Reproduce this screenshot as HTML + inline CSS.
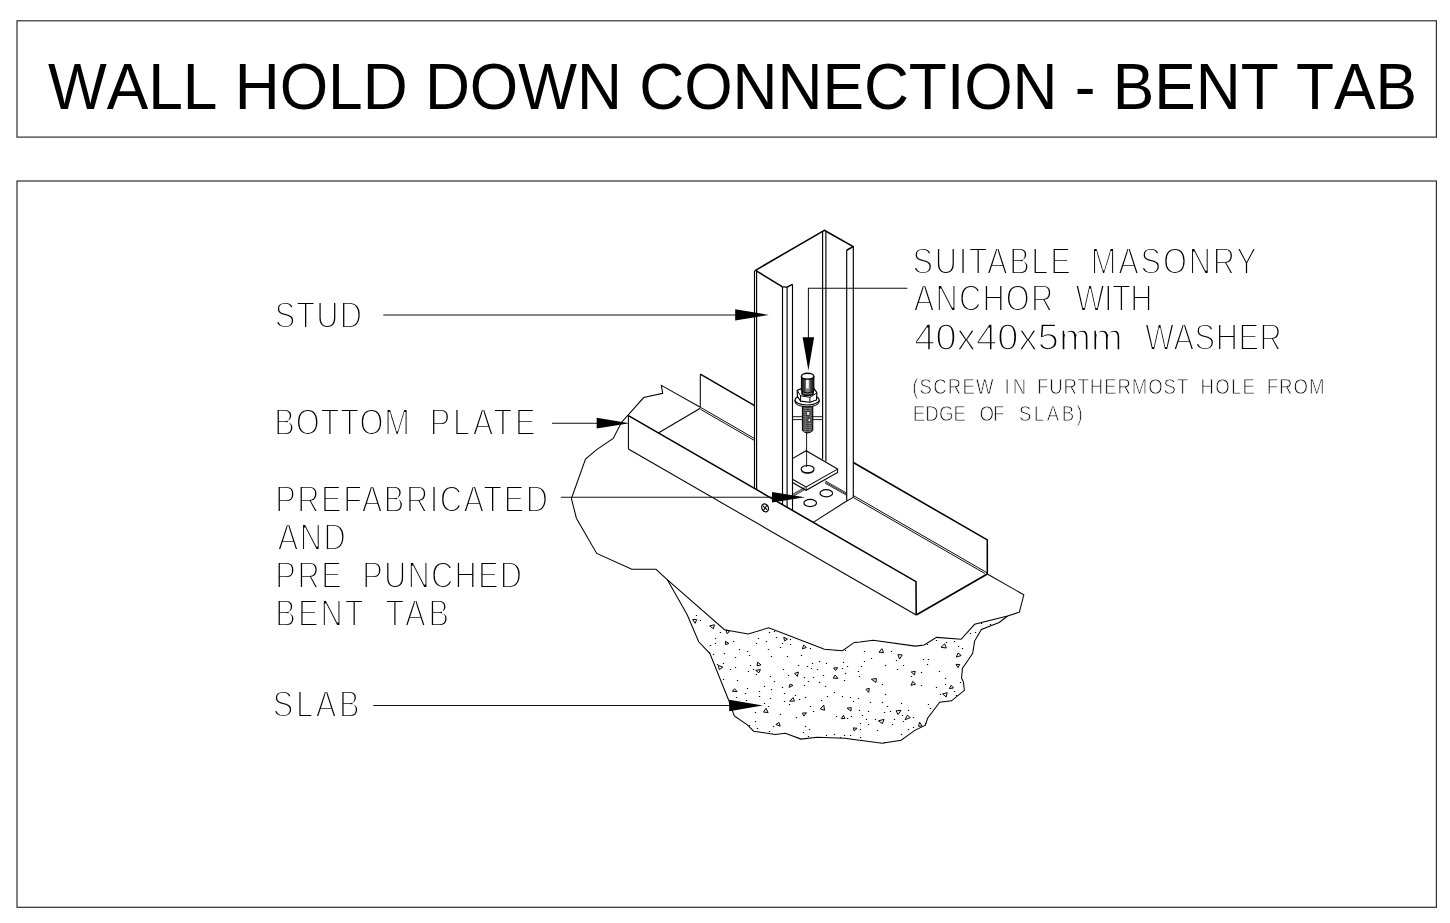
<!DOCTYPE html>
<html lang="en">
<head>
<meta charset="utf-8">
<title>Wall Hold Down Connection - Bent Tab</title>
<style>
html,body{margin:0;padding:0;background:#fff;}
body{width:1450px;height:923px;overflow:hidden;font-family:"Liberation Sans",sans-serif;}
svg{display:block;position:absolute;left:0;top:0;}
.frames rect{fill:none;stroke:#2e2e2e;stroke-width:1.2;}
text{font-family:"Liberation Sans",sans-serif;fill:#000;}
.title{font-size:62.24px;font-kerning:none;}
.cad{fill:#000;stroke:#fff;}
</style>
</head>
<body>
<svg width="1450" height="923" viewBox="0 0 1450 923">
<rect width="1450" height="923" fill="#fff"/>
<g class="frames">
<rect x="17" y="20.8" width="1419.4" height="116.3"/>
<rect x="17" y="181" width="1419.4" height="726.3"/>
</g>
<text class="title" transform="translate(48.0 108.9) scale(1 1.042)" x="0" y="0">WALL HOLD DOWN CONNECTION - BENT TAB</text>
<g class="geo" fill="none" stroke="#000">
<g id="slab">
<path d="M700.3 407.2 L661.4 385.4 L662.7 393.3 L643.7 397.6 L627.8 415.3 L621.6 422.2 L613.2 438.4 L596.7 449.6 L585.5 459.0 L571.4 498.6 L576.4 518.2 L596.7 553.4 L631.8 569.3 L656.0 569.3 L667.2 579.6 L724.5 629.7 L748.2 634.0 L768.7 627.8 L824.5 649.2 L842.5 650.8 L854.3 642.4 L860.0 641.9 L873.1 640.3 L915.4 646.1 L924.1 645.0 L936.6 637.4 L961.1 639.3 L974.6 624.3 L1007.6 616.0 L1019.4 612.2 L1023.8 594.8 L987.3 574.0" stroke-width="1.05"/>
<path d="M667.2 579.6 L687.2 614.7 L698.7 641.8 L709.9 653.6 L729.2 701.5 L734.3 716.0 L747.4 724.8 L753.6 731.2 L775.4 734.5 L785.4 733.2 L801.0 739.1 L817.1 737.2 L844.5 738.2 L882.2 743.2 L901.1 740.3 L914.8 730.4 L925.4 725.1 L927.6 718.3 L939.7 702.3 L951.5 700.8 L964.4 690.3 L963.4 681.8 L961.5 678.1 L962.5 668.1 L968.2 660.0 L972.7 653.3 L974.6 641.1 L981.4 629.4 L999.2 622.5 L1007.6 616.0" stroke-width="1.05"/>
<path d="M692.7 619.5 L696.7 619.5 L695.1 623.3Z M713.5 628.7 L709.7 625.9 L714.4 624.8Z M727.0 633.7 L726.0 629.8 L729.4 631.5Z M728.9 643.4 L725.6 644.7 L725.5 641.3Z M787.5 639.1 L784.5 640.9 L783.8 637.2Z M806.3 647.5 L802.4 648.8 L803.7 644.9Z M718.4 665.4 L722.8 667.2 L719.2 669.6Z M761.0 664.9 L757.0 665.8 L757.8 662.2Z M758.9 672.8 L755.7 670.4 L760.4 669.6Z M798.4 672.1 L797.4 676.4 L794.7 673.4Z M835.6 670.5 L833.6 668.0 L837.7 667.7Z M837.9 678.4 L833.3 678.1 L835.1 675.0Z M789.1 687.4 L790.0 684.1 L793.0 685.4Z M737.1 691.6 L732.4 691.3 L734.5 688.7Z M789.8 701.2 L793.0 697.6 L794.5 701.0Z M768.1 712.5 L763.5 712.1 L766.0 708.4Z M823.8 705.1 L824.5 710.3 L820.4 708.9Z M851.2 707.6 L851.0 711.1 L847.1 708.2Z M803.9 716.1 L802.4 713.1 L806.5 712.8Z M844.9 718.5 L841.3 718.6 L843.4 715.3Z M775.9 724.5 L778.9 722.4 L780.2 726.2Z M876.0 682.4 L871.4 679.3 L876.4 678.5Z M868.7 692.4 L866.0 689.3 L869.3 688.3Z M884.0 719.3 L882.4 723.6 L878.5 720.9Z M857.1 728.3 L854.2 730.9 L853.3 727.9Z M896.1 710.8 L901.0 710.4 L898.0 714.6Z M958.0 667.6 L956.0 664.4 L959.7 664.5Z M915.3 671.3 L914.3 674.9 L911.2 672.0Z M915.5 684.1 L911.0 685.3 L912.7 681.4Z M949.3 688.6 L951.2 685.3 L953.4 688.0Z M942.6 693.9 L947.2 692.7 L946.2 697.0Z M907.3 715.2 L910.3 717.6 L905.1 719.7Z M919.5 722.1 L922.0 726.0 L918.6 726.3Z M881.9 648.7 L883.6 652.5 L879.0 652.2Z M902.2 654.9 L899.6 659.1 L897.9 654.6Z M941.0 647.3 L944.6 643.9 L946.3 648.0Z M956.3 657.1 L958.0 653.0 L961.2 655.5Z" stroke-width="1.0" stroke-linejoin="miter"/>
<path d="M884.45 742.5h.1 M799.45 699.5h.1 M864.45 651.5h.1 M871.45 658.5h.1 M745.45 693.5h.1 M891.45 651.5h.1 M970.45 633.5h.1 M813.45 711.5h.1 M836.45 716.5h.1 M956.45 695.5h.1 M990.45 624.5h.1 M724.45 653.5h.1 M808.45 681.5h.1 M713.45 654.5h.1 M819.45 682.5h.1 M890.45 711.5h.1 M735.45 657.5h.1 M827.45 696.5h.1 M784.45 693.5h.1 M844.45 680.5h.1 M860.45 723.5h.1 M825.45 686.5h.1 M736.45 697.5h.1 M945.45 684.5h.1 M817.45 669.5h.1 M928.45 659.5h.1 M717.45 664.5h.1 M913.45 717.5h.1 M901.45 734.5h.1 M834.45 734.5h.1 M696.45 615.5h.1 M796.45 717.5h.1 M845.45 673.5h.1 M735.45 667.5h.1 M939.45 671.5h.1 M834.45 692.5h.1 M808.45 736.5h.1 M981.45 623.5h.1 M877.45 730.5h.1 M776.45 637.5h.1 M807.45 666.5h.1 M882.45 684.5h.1 M847.45 718.5h.1 M875.45 719.5h.1 M746.45 700.5h.1 M774.45 631.5h.1 M710.45 645.5h.1 M736.45 717.5h.1 M826.45 663.5h.1 M813.45 677.5h.1 M821.45 700.5h.1 M723.45 663.5h.1 M940.45 694.5h.1 M960.45 682.5h.1 M804.45 677.5h.1 M805.45 726.5h.1 M928.45 704.5h.1 M805.45 697.5h.1 M782.45 687.5h.1 M861.45 666.5h.1 M885.45 694.5h.1 M733.45 641.5h.1 M700.45 620.5h.1 M840.45 737.5h.1 M884.45 712.5h.1 M764.45 686.5h.1 M750.45 665.5h.1 M945.45 678.5h.1 M709.45 652.5h.1 M756.45 674.5h.1 M810.45 706.5h.1 M759.45 691.5h.1 M859.45 676.5h.1 M882.45 702.5h.1 M897.45 669.5h.1 M784.45 701.5h.1 M739.45 649.5h.1 M755.45 712.5h.1 M853.45 701.5h.1 M768.45 706.5h.1 M770.45 698.5h.1 M715.45 638.5h.1 M860.45 729.5h.1 M803.45 732.5h.1 M790.45 639.5h.1 M790.45 644.5h.1 M859.45 710.5h.1 M851.45 716.5h.1 M925.45 723.5h.1 M842.45 668.5h.1 M860.45 737.5h.1 M921.45 685.5h.1 M927.45 664.5h.1 M927.45 644.5h.1 M896.45 660.5h.1 M850.45 697.5h.1 M908.45 729.5h.1 M894.45 719.5h.1 M885.45 665.5h.1 M908.45 710.5h.1 M810.45 648.5h.1 M887.45 706.5h.1 M823.45 675.5h.1 M911.45 676.5h.1 M783.45 669.5h.1 M798.45 665.5h.1 M720.45 632.5h.1 M755.45 721.5h.1 M759.45 696.5h.1 M826.45 735.5h.1 M866.45 719.5h.1 M809.45 729.5h.1 M771.45 656.5h.1 M801.45 655.5h.1 M795.45 695.5h.1 M748.45 671.5h.1 M737.45 680.5h.1 M766.45 641.5h.1 M782.45 643.5h.1 M858.45 698.5h.1 M780.45 714.5h.1 M812.45 663.5h.1 M946.45 642.5h.1 M780.45 647.5h.1 M936.45 687.5h.1 M842.45 696.5h.1 M858.45 671.5h.1 M757.45 728.5h.1 M862.45 715.5h.1 M730.45 669.5h.1 M771.45 689.5h.1 M868.45 711.5h.1 M901.45 703.5h.1 M923.45 659.5h.1 M958.45 646.5h.1 M845.45 650.5h.1 M975.45 632.5h.1 M870.45 702.5h.1 M770.45 676.5h.1 M819.45 661.5h.1 M903.45 665.5h.1 M962.45 648.5h.1 M921.45 672.5h.1 M850.45 735.5h.1 M769.45 632.5h.1 M788.45 675.5h.1 M787.45 656.5h.1 M773.45 726.5h.1 M747.45 688.5h.1 M936.45 640.5h.1 M892.45 724.5h.1 M769.45 731.5h.1 M847.45 666.5h.1 M764.45 703.5h.1 M843.45 662.5h.1 M954.45 691.5h.1 M844.45 735.5h.1 M723.45 679.5h.1 M747.45 651.5h.1 M930.45 708.5h.1 M864.45 661.5h.1 M836.45 650.5h.1 M774.45 681.5h.1 M902.45 715.5h.1 M749.45 725.5h.1 M715.45 643.5h.1 M768.45 649.5h.1 M753.45 669.5h.1 M749.45 655.5h.1 M804.45 685.5h.1 M903.45 721.5h.1 M868.45 724.5h.1 M954.45 641.5h.1 M756.45 643.5h.1 M758.45 638.5h.1 M789.45 704.5h.1 M913.45 727.5h.1 M811.45 668.5h.1" stroke-width="1.15" stroke-linecap="square" stroke="#000"/>
</g>
<g id="track">
<path d="M700.3 407.2 L700.3 374.0" stroke-width="1.05"/>
<path d="M700.3 374.2 L754.6 405.6" stroke-width="1.45"/>
<path d="M853.3 462.5 L987.3 539.9 L987.3 574.0" stroke-width="1.55"/>
<path d="M700.3 407.2 L754.6 438.6" stroke-width="0.95"/>
<path d="M853.3 495.5 L987.3 572.9" stroke-width="0.95"/>
<path d="M700.3 409.2 L754.6 440.6" stroke-width="0.95"/>
<path d="M853.3 497.5 L984.9 573.5" stroke-width="0.95"/>
<path d="M658.3 433.0 L700.3 408.3" stroke-width="1.05"/>
<path d="M916.2 615.0 L987.3 574.0" stroke-width="1.55"/>
<path d="M628.4 449.0 L628.4 415.4" stroke-width="1.05"/>
<path d="M628.4 415.7 L916.0 581.7 L916.2 615.0" stroke-width="1.55"/>
<path d="M628.4 449.0 L916.2 615.0" stroke-width="1.05"/>
</g>
<g id="stud">
<path d="M782.5 286.9 L755.5 270.3 L824.3 230.3 L853.2 246.6 L846.6 250.3" stroke-width="1.55" stroke-linejoin="round"/>
<path d="M782.5 286.9 L787.0 287.1 L792.4 284.4" stroke-width="1.395" stroke-linejoin="round"/>
<path d="M754.5 270.6 L754.5 488.5" stroke-width="1.15"/>
<path d="M756.6 271.2 L756.6 489.7" stroke-width="1.15"/>
<path d="M782.5 286.9 L782.5 504.7" stroke-width="1.15"/>
<path d="M787.1 287.0 L787.1 507.3" stroke-width="1.15"/>
<path d="M792.5 284.4 L792.5 510.4" stroke-width="1.15"/>
<path d="M822.6 231.0 L822.6 459.6" stroke-width="1.15"/>
<path d="M825.9 231.0 L825.9 461.3" stroke-width="1.15"/>
<path d="M846.7 250.3 L846.7 500.6" stroke-width="1.15"/>
<path d="M853.3 246.6 L853.3 497.6" stroke-width="1.15"/>
<path d="M792.4 416.7 L822.7 416.7" stroke-width="0.9"/>
<path d="M792.4 419.6 L822.7 419.6" stroke-width="0.9"/>
</g>
<g id="tab">
<path d="M813.2 522.4 L846.7 501.0 L853.3 497.4" stroke-width="1.05"/>
<path d="M825.1 480.8 L846.7 493.0" stroke-width="0.8"/>
<path d="M825.1 482.0 L846.7 494.2" stroke-width="0.8"/>
<path d="M825.1 483.2 L846.7 495.4" stroke-width="0.8"/>
<path d="M792.4 494.4 L804.6 487.4" stroke-width="0.7"/>
<path d="M792.4 495.6 L804.6 488.6" stroke-width="0.7"/>
<path d="M792.4 496.8 L804.6 489.8" stroke-width="0.7"/>
<path d="M792.4 458.6 L806.1 450.7 L837.6 469.1 L806.1 486.9 L792.4 479.2" stroke-width="1.05"/>
<path d="M837.6 469.1 L837.6 472.4 L806.1 490.3 L792.4 482.5" stroke-width="1.05"/>
<path d="M806.1 486.9 L806.1 490.3" stroke-width="0.9"/>
<ellipse cx="807.6" cy="469.1" rx="6.5" ry="3.6" stroke-width="1.1"/>
<path d="M801.6 470.6 A6.0 2.7 0 0 0 813.6 470.6" stroke-width="1.0"/>
<ellipse cx="826.3" cy="493.2" rx="6.3" ry="3.6" stroke-width="1.15"/>
<ellipse cx="810.2" cy="503.0" rx="6.3" ry="3.6" stroke-width="1.15"/>
<ellipse cx="765.1" cy="507.9" rx="3.2" ry="4.1" stroke-width="1.25" transform="rotate(-25 765.1 507.9)"/>
<path d="M762.9 505.9 L767.3 509.9 M763.4 510.6 L766.8 505.2" stroke-width="1.1"/>
</g>
<g id="bolt">
<path d="M806.6 433.0 L806.6 467.0" stroke-width="0.9"/>
<path d="M802.4 404 V430.6 Q807.6 435.4 812.8 430.6 V404 Z" fill="#2b2b2b" stroke-width="1.0"/>
<path d="M803.2 407.0 L812.0 406.2 M803.2 408.9 L812.0 408.1 M803.2 410.8 L812.0 410.0 M803.2 412.7 L812.0 411.9 M803.2 414.6 L812.0 413.8 M803.2 416.5 L812.0 415.7 M803.2 418.4 L812.0 417.6 M803.2 420.3 L812.0 419.5 M803.2 422.2 L812.0 421.4 M803.2 424.1 L812.0 423.3 M803.2 426.0 L812.0 425.2 M803.2 427.9 L812.0 427.1 M803.2 429.8 L812.0 429.0 M803.2 431.7 L812.0 430.9" stroke-width="0.55" stroke="#bdbdbd"/>
<path d="M805.3 406 V431.5 M809.9 406 V431.5" stroke-width="0.5" stroke="#9a9a9a"/>
<path d="M806.2 411.6 h4.0 l-0.6 3.8 h-3.0 z" fill="#e8e8e8" stroke-width="0.7"/>
<path d="M809.2 417.0 l1.8 4.4 h-3.4 z" fill="#fff" stroke-width="0.6"/>
<path d="M795.0 400.0 v1.8 a12.1 5.0 0 0 0 24.2 0 v-1.8" fill="#fff" stroke-width="1.0"/>
<ellipse cx="807.1" cy="400.0" rx="12.1" ry="5.0" fill="#fff" stroke-width="1.1"/>
<path d="M797.2 390.4 L801.4 388.6 L814.0 388.6 L816.9 392.6 L816.5 400.0 L809.9 402.3 L800.6 401.1 L797.4 396.2 Z" fill="#fff" stroke-width="1.15" stroke-linejoin="round"/>
<path d="M797.2 390.4 L800.6 395.8 L809.9 397.3 L816.9 392.9 M800.6 395.8 V401.1 M809.9 397.3 V402.3" stroke-width="1.0"/>
<ellipse cx="807.6" cy="392.9" rx="5.7" ry="2.4" stroke-width="1.5" fill="#777"/>
<defs><linearGradient id="bg" x1="0" x2="1" y1="0" y2="0"><stop offset="0" stop-color="#111"/><stop offset="0.3" stop-color="#4a4a4a"/><stop offset="0.37" stop-color="#888"/><stop offset="0.63" stop-color="#888"/><stop offset="0.7" stop-color="#4a4a4a"/><stop offset="1" stop-color="#111"/></linearGradient></defs>
<path d="M801.4 376.2 V391.2 Q807.6 394.6 813.9 391.2 V376.2 Z" fill="url(#bg)" stroke-width="1.0"/>
<path d="M806.1 379.2 H808.7 V388.4 H806.1 Z" fill="#fff" stroke="none"/>
<ellipse cx="807.6" cy="376.2" rx="6.2" ry="2.9" fill="#fff" stroke-width="1.4"/>
</g>
<g id="leaders">
<path d="M383.3 314.9 L736.2 314.9" stroke-width="1.05" stroke="#111"/>
<path d="M735.2 309.29999999999995 L768.9 314.9 L735.2 320.5 Z" fill="#000" stroke="none"/>
<path d="M552.0 423.2 L597.7 423.2" stroke-width="1.05" stroke="#111"/>
<path d="M596.7 417.8 L629.4 423.2 L596.7 428.59999999999997 Z" fill="#000" stroke="none"/>
<path d="M560.8 497.2 L773.0 497.2" stroke-width="1.05" stroke="#111"/>
<path d="M772.0 492.0 L805.0 497.2 L772.0 502.4 Z" fill="#000" stroke="none"/>
<path d="M373.2 705.5 L730.2 705.5" stroke-width="1.05" stroke="#111"/>
<path d="M729.2 699.7 L762.8 705.5 L729.2 711.3 Z" fill="#000" stroke="none"/>
<path d="M907.4 288.3 L808.4 288.3 L808.4 338.0" stroke-width="1.05" stroke="#111"/>
<path d="M802.6 337.2 L808.4 370.6 L814.1 337.2 Z" fill="#000" stroke="none"/>
</g>
</g>
<g class="labels" opacity="0.999">
<text class="cad" transform="translate(0 327.73) scale(0.83 1)" font-size="37.14" stroke-width="1.85"><tspan x="330.91" textLength="105.24" lengthAdjust="spacing">STUD</tspan></text>
<text class="cad" transform="translate(0 435.23) scale(0.83 1)" font-size="37.14" stroke-width="1.85"><tspan x="330.44" textLength="163.48" lengthAdjust="spacing">BOTTOM</tspan> <tspan x="517.74" textLength="127.59" lengthAdjust="spacing">PLATE</tspan></text>
<text class="cad" transform="translate(0 512.12) scale(0.83 1)" font-size="37.14" stroke-width="1.85"><tspan x="331.65" textLength="328.56" lengthAdjust="spacing">PREFABRICATED</tspan></text>
<text class="cad" transform="translate(0 549.82) scale(0.83 1)" font-size="37.14" stroke-width="1.85"><tspan x="334.58" textLength="81.99" lengthAdjust="spacing">AND</tspan></text>
<text class="cad" transform="translate(0 587.72) scale(0.83 1)" font-size="37.14" stroke-width="1.85"><tspan x="331.65" textLength="80.29" lengthAdjust="spacing">PRE</tspan> <tspan x="436.47" textLength="192.56" lengthAdjust="spacing">PUNCHED</tspan></text>
<text class="cad" transform="translate(0 625.52) scale(0.83 1)" font-size="37.14" stroke-width="1.85"><tspan x="331.65" textLength="106.52" lengthAdjust="spacing">BENT</tspan> <tspan x="464.59" textLength="76.39" lengthAdjust="spacing">TAB</tspan></text>
<text class="cad" transform="translate(0 716.82) scale(0.83 1)" font-size="37.14" stroke-width="1.85"><tspan x="328.48" textLength="104.70" lengthAdjust="spacing">SLAB</tspan></text>
<text class="cad" transform="translate(0 273.62) scale(0.83 1)" font-size="37.14" stroke-width="1.85"><tspan x="1099.50" textLength="190.51" lengthAdjust="spacing">SUITABLE</tspan> <tspan x="1314.12" textLength="200.09" lengthAdjust="spacing">MASONRY</tspan></text>
<text class="cad" transform="translate(0 311.23) scale(0.83 1)" font-size="37.14" stroke-width="1.85"><tspan x="1101.04" textLength="167.87" lengthAdjust="spacing">ANCHOR</tspan> <tspan x="1295.67" textLength="92.81" lengthAdjust="spacing">WITH</tspan></text>
<text class="cad" transform="translate(0 349.53) scale(1.02 1)" font-size="37.14" stroke-width="1.6"><tspan x="896.24" textLength="204.25" lengthAdjust="spacing">40x40x5mm</tspan></text>
<text class="cad" transform="translate(0 349.53) scale(0.83 1)" font-size="37.14" stroke-width="1.85"><tspan x="1379.65" textLength="164.57" lengthAdjust="spacing">WASHER</tspan></text>
<text class="cad" transform="translate(0 394.12) scale(0.83 1)" font-size="22.46" stroke-width="0.85"><tspan x="1099.10" textLength="97.98" lengthAdjust="spacing">(SCREW</tspan> <tspan x="1210.22" textLength="26.12" lengthAdjust="spacing">IN</tspan> <tspan x="1249.40" textLength="182.32" lengthAdjust="spacing">FURTHERMOST</tspan> <tspan x="1446.48" textLength="65.52" lengthAdjust="spacing">HOLE</tspan> <tspan x="1526.27" textLength="69.51" lengthAdjust="spacing">FROM</tspan></text>
<text class="cad" transform="translate(0 420.93) scale(0.83 1)" font-size="22.46" stroke-width="0.85"><tspan x="1099.62" textLength="64.18" lengthAdjust="spacing">EDGE</tspan> <tspan x="1179.98" textLength="30.26" lengthAdjust="spacing">OF</tspan> <tspan x="1227.66" textLength="76.93" lengthAdjust="spacing">SLAB)</tspan></text>
</g>
</svg>
</body>
</html>
